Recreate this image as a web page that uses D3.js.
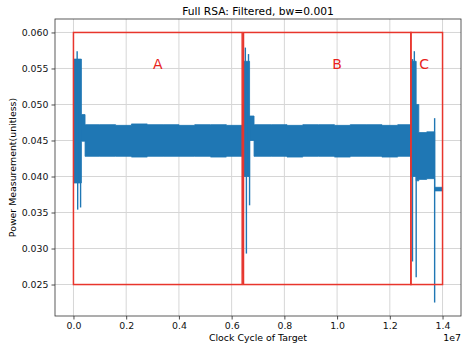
<!DOCTYPE html>
<html>
<head>
<meta charset="utf-8">
<script src="https://cdn.jsdelivr.net/npm/d3@7"></script>
<style>
  body { margin: 0; background: #fff; }
  text { font-family: "DejaVu Sans", sans-serif; }
</style>
</head>
<body>
<div class="d3Chart"></div>
<script>
// envelope of the dense trace, x in units of 1e7 clock cycles
var bandX = [0.0, 0.03, 0.044, 0.1, 0.16, 0.22, 0.28, 0.34, 0.4, 0.46, 0.52, 0.58,
  0.645, 0.668, 0.685, 0.75, 0.81, 0.87, 0.93, 0.99, 1.05, 1.11, 1.17, 1.23,
  1.28, 1.3, 1.31, 1.34, 1.37, 1.4];
var bandHi = [0.0563, 0.0486, 0.0472, 0.0472, 0.0471, 0.0473, 0.0472, 0.0472, 0.0471, 0.0472, 0.0472, 0.0471,
  0.056, 0.0484, 0.0472, 0.0472, 0.0471, 0.0472, 0.0472, 0.0471, 0.0472, 0.0472, 0.0471, 0.0472,
  0.056, 0.05, 0.0461, 0.0462, 0.0385, 0.0385];
var bandLo = [0.0391, 0.0449, 0.0428, 0.0428, 0.0428, 0.0427, 0.0428, 0.0428, 0.0428, 0.0428, 0.0427, 0.0428,
  0.04, 0.045, 0.0428, 0.0428, 0.0427, 0.0428, 0.0428, 0.0427, 0.0428, 0.0428, 0.0427, 0.0428,
  0.04, 0.0394, 0.0396, 0.0397, 0.038, 0.038];

// narrow spikes of the trace
var spikeX = [0.014, 0.016, 0.027, 0.643, 0.652, 0.656, 0.664, 0.668, 1.286, 1.293, 1.3, 1.37];
var spikeHi = [0.0574, 0.05, 0.0563, 0.05, 0.0579, 0.052, 0.057, 0.048, 0.0563, 0.0574, 0.05, 0.0481];
var spikeLo = [0.045, 0.0354, 0.0357, 0.0265, 0.04, 0.0293, 0.04, 0.036, 0.0282, 0.042, 0.026, 0.0225];

// red boxes
var regionNames = ["A", "B", "C"];
var regionStart = [0.0, 0.645, 1.28];
var regionEnd = [0.64, 1.28, 1.4];
var regionLabelX = [0.32, 1.0, 1.33];
var regionBottom = 0.025;
var regionTop = 0.06;

var xTicks = [0, 0.2, 0.4, 0.6, 0.8, 1.0, 1.2, 1.4];
var yTicks = [0.025, 0.03, 0.035, 0.04, 0.045, 0.05, 0.055, 0.06];

var width = 474;
var height = 351;
var plotL = 55, plotR = 461, plotT = 19, plotB = 316;

var svg = d3
  .select(".d3Chart")
  .append("svg")
  .attr("width", width)
  .attr("height", height);

var x = d3.scaleLinear().domain([-0.07, 1.47]).range([plotL, plotR]);
var y = d3.scaleLinear().domain([0.02063, 0.06187]).range([plotB, plotT]);

// grid
svg
  .append("g")
  .selectAll("line")
  .data(xTicks)
  .enter()
  .append("line")
  .attr("x1", (d) => x(d))
  .attr("x2", (d) => x(d))
  .attr("y1", plotT)
  .attr("y2", plotB)
  .attr("stroke", "#d6d6d6")
  .attr("stroke-width", 1);
svg
  .append("g")
  .selectAll("line")
  .data(yTicks)
  .enter()
  .append("line")
  .attr("x1", plotL)
  .attr("x2", plotR)
  .attr("y1", (d) => y(d))
  .attr("y2", (d) => y(d))
  .attr("stroke", "#d6d6d6")
  .attr("stroke-width", 1);

// trace
var band = bandX.map((d, i) => ({ x: d, hi: bandHi[i], lo: bandLo[i] }));
var area = d3
  .area()
  .curve(d3.curveStepAfter)
  .x((d) => x(d.x))
  .y0((d) => y(d.lo))
  .y1((d) => y(d.hi));
svg
  .append("path")
  .datum(band)
  .attr("d", area)
  .attr("fill", "#1f77b4")
  .attr("stroke", "#1f77b4")
  .attr("stroke-width", 0.8);

svg
  .append("g")
  .selectAll("line")
  .data(spikeX)
  .enter()
  .append("line")
  .attr("x1", (d) => x(d))
  .attr("x2", (d) => x(d))
  .attr("y1", (d, i) => y(spikeHi[i]))
  .attr("y2", (d, i) => y(spikeLo[i]))
  .attr("stroke", "#1f77b4")
  .attr("stroke-width", 1.4);

// boxes
svg
  .append("g")
  .selectAll("rect")
  .data(regionNames)
  .enter()
  .append("rect")
  .attr("x", (d, i) => x(regionStart[i]))
  .attr("width", (d, i) => x(regionEnd[i]) - x(regionStart[i]))
  .attr("y", y(regionTop))
  .attr("height", y(regionBottom) - y(regionTop))
  .attr("fill", "none")
  .attr("stroke", "#e8352c")
  .attr("stroke-width", 1.5);

svg
  .append("g")
  .selectAll("text")
  .data(regionNames)
  .enter()
  .append("text")
  .attr("x", (d, i) => x(regionLabelX[i]))
  .attr("y", y(0.0549))
  .attr("text-anchor", "middle")
  .attr("fill", "#e8231c")
  .style("font-size", "14px")
  .text((d) => d);

// axes
var xAxis = d3
  .axisBottom(x)
  .tickValues(xTicks)
  .tickSize(3.5)
  .tickPadding(3)
  .tickFormat(d3.format(".1f"));
var yAxis = d3
  .axisLeft(y)
  .tickValues(yTicks)
  .tickSize(3.5)
  .tickPadding(3)
  .tickFormat(d3.format(".3f"));

var gx = svg.append("g").attr("transform", `translate(0, ${plotB})`).call(xAxis);
var gy = svg.append("g").attr("transform", `translate(${plotL}, 0)`).call(yAxis);
[gx, gy].forEach((g) => {
  g.select(".domain").remove();
  g.selectAll("line").attr("stroke", "#222").attr("stroke-width", 0.8);
  g.selectAll("text")
    .attr("fill", "#111")
    .style("font-size", "9.4px")
    .style("font-family", "DejaVu Sans, sans-serif");
});

svg
  .append("rect")
  .attr("x", plotL)
  .attr("y", plotT)
  .attr("width", plotR - plotL)
  .attr("height", plotB - plotT)
  .attr("fill", "none")
  .attr("stroke", "#333")
  .attr("stroke-width", 0.8);

// titles
svg
  .append("text")
  .attr("x", (plotL + plotR) / 2)
  .attr("y", 15)
  .attr("text-anchor", "middle")
  .style("font-size", "10.7px")
  .text("Full RSA: Filtered, bw=0.001");

svg
  .append("text")
  .attr("x", (plotL + plotR) / 2)
  .attr("y", 341)
  .attr("text-anchor", "middle")
  .style("font-size", "9.4px")
  .text("Clock Cycle of Target");

svg
  .append("text")
  .attr("x", plotR)
  .attr("y", 341)
  .attr("text-anchor", "end")
  .style("font-size", "9.4px")
  .text("1e7");

svg
  .append("text")
  .attr("transform", `translate(16, ${(plotT + plotB) / 2}) rotate(-90)`)
  .attr("text-anchor", "middle")
  .style("font-size", "9.4px")
  .text("Power Measurement(unitless)");
</script>
</body>
</html>
